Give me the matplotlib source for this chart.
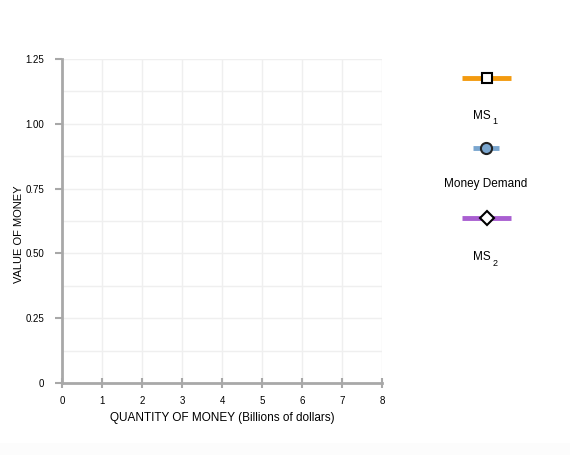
import matplotlib
matplotlib.use("Agg")
import matplotlib.pyplot as plt
from matplotlib.lines import Line2D
from matplotlib.patches import Rectangle

# Data (chart is empty: no series points plotted)
ms1_x, ms1_y = [], []
md_x, md_y = [], []
ms2_x, ms2_y = [], []
x_ticks = [0, 1, 2, 3, 4, 5, 6, 7, 8]
y_ticks = [0, 0.25, 0.50, 0.75, 1.00, 1.25]
y_tick_labels = ["0", "0.25", "0.50", "0.75", "1.00", "1.25"]
series_names = ["MS", "Money Demand", "MS"]
series_subs = ["1", "", "2"]
series_colors = ["#f39a0f", "#7aa6cf", "#a95fd1"]

plt.rcParams['font.family'] = ['Liberation Sans', 'DejaVu Sans']

fig = plt.figure(figsize=(5.7, 4.55), dpi=100)

# very faint bottom band
bg = fig.add_axes([0, 0, 1, 1], zorder=-5)
bg.set_xlim(0, 570)
bg.set_ylim(455, 0)
bg.axis('off')
bg.add_patch(Rectangle((0, 443), 570, 12, color='#fcfcfc', lw=0))

ax = fig.add_axes([62/570, 1-383/455, 320/570, 324/455])

ax.plot(ms1_x, ms1_y, color=series_colors[0])
ax.plot(md_x, md_y, color=series_colors[1])
ax.plot(ms2_x, ms2_y, color=series_colors[2])

ax.set_xlim(0, 8)
ax.set_ylim(0, 1.25)
ax.set_xticks(x_ticks)
ax.set_xticklabels([str(t) for t in x_ticks], fontsize=7)
ax.set_yticks(y_ticks)
ax.set_yticklabels(y_tick_labels, fontsize=7)
ax.set_yticks([i * 0.125 for i in range(11)], minor=True)
ax.grid(True, which='major', color='#efefef', linewidth=1.0)
ax.grid(True, which='minor', axis='y', color='#efefef', linewidth=1.0)
ax.tick_params(axis='y', which='minor', length=0)
ax.tick_params(axis='x', direction='inout', length=7, width=1.5, color='#a8a8a8', pad=6)
ax.tick_params(axis='y', direction='out', length=5, width=1.5, color='#a8a8a8', pad=8)

for s in ['top', 'right']:
    ax.spines[s].set_visible(False)
for s in ['left', 'bottom']:
    ax.spines[s].set_color('#a8a8a8')
    ax.spines[s].set_linewidth(2)

ax.set_xlabel("QUANTITY OF MONEY (Billions of dollars)", fontsize=8.5, labelpad=4)
ax.set_ylabel("VALUE OF MONEY", fontsize=8)
ax.yaxis.set_label_coords(-0.118, 0.46)

# Legend panel
lax = fig.add_axes([0, 0, 1, 1])
lax.set_xlim(0, 570)
lax.set_ylim(455, 0)
lax.axis('off')

def sublabel(xr, y, main, sub):
    lax.text(xr, y, main, ha='right', va='center', fontsize=8.5)
    if sub:
        lax.text(xr + 1.5, y + 6, sub, ha='left', va='center', fontsize=6.5)

lax.add_line(Line2D([462, 511], [78, 78], color=series_colors[0], lw=3.5, solid_capstyle='butt'))
lax.add_line(Line2D([486.5], [78], marker='s', markersize=7, markerfacecolor='white',
                    markeredgecolor='black', markeredgewidth=1.5))
sublabel(491, 116, series_names[0], series_subs[0])
lax.add_line(Line2D([473, 499], [148, 148], color=series_colors[1], lw=3.5, solid_capstyle='butt'))
lax.add_line(Line2D([486], [148], marker='o', markersize=8, markerfacecolor='#7aa6cf',
                    markeredgecolor='#222222', markeredgewidth=1.5))
lax.text(486, 184, series_names[1], ha='center', va='center', fontsize=8.5)
lax.add_line(Line2D([462, 511], [218, 218], color=series_colors[2], lw=3.5, solid_capstyle='butt'))
lax.add_line(Line2D([486.5], [218], marker='D', markersize=7, markerfacecolor='white',
                    markeredgecolor='black', markeredgewidth=1.5))
sublabel(491, 257, series_names[2], series_subs[2])

fig.savefig("out.png", dpi=100)
